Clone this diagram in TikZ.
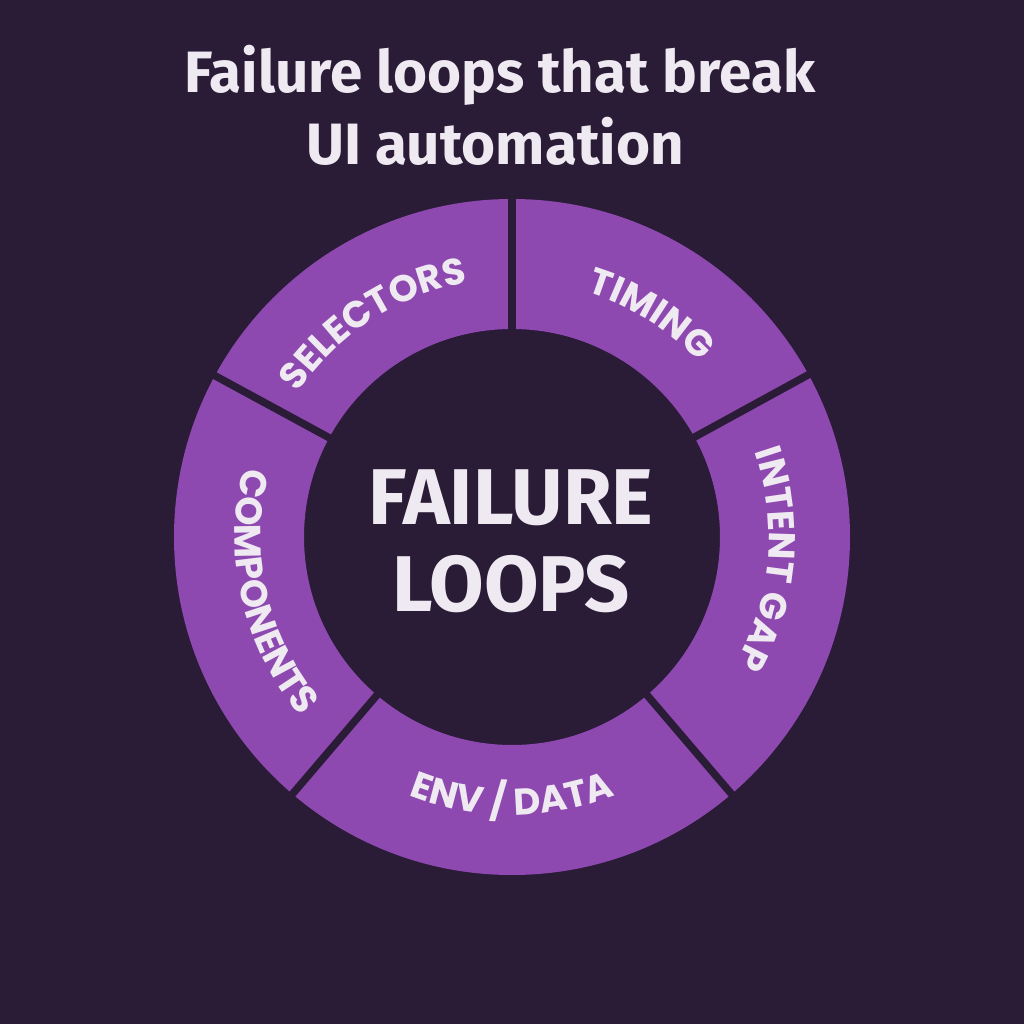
\documentclass[tikz,border=0pt]{standalone}
\usepackage{fontspec}
\setmainfont{Fira Sans}
\newfontfamily\ringface{Poppins}
\usetikzlibrary{decorations.text}

\definecolor{bgdark}{HTML}{2A1B36}
\definecolor{ringpurple}{HTML}{8E49B0}
\definecolor{labelwhite}{HTML}{EFEAF2}
\newcommand{\ringfont}{\ringface\fontsize{10.6}{12}\selectfont\bfseries}

\begin{document}
\begin{tikzpicture}[
    every node/.style={text=labelwhite,inner sep=0pt},
    titletext/.style={font=\fontsize{16.6}{19}\selectfont\bfseries,anchor=base},
    hubtext/.style={font=\fontsize{22.5}{26}\selectfont\bfseries,anchor=base},
    ring/.style={fill=ringpurple,even odd rule},
    gapline/.style={draw=bgdark,line width=0.75mm},
    arclabel/.style={decorate,decoration={text along path,text align=center,
                     text color=labelwhite,text={|\ringfont|#1}}}
]
% background and page size
\fill[bgdark] (0,0) rectangle (10.24,10.24);

% title
\node[titletext] (titlea) at (5.0,9.31) {Failure loops that break};
\node[titletext] (titleb) at (4.95,8.59) {UI automation};

\begin{scope}[shift={(5.12,4.87)}]
  % ring and separators
  \fill[ring] (0,0) circle (3.38) (0,0) circle (2.08);
  \foreach \a in {90,28.7,-49.5,-130.5,151.5}
    \draw[gapline] (\a:2.0) -- (\a:3.45);

  % labels on the ring
  \path[arclabel=SELECTORS]  (153:2.58) arc[start angle=153,end angle=93,radius=2.58];
  \path[arclabel=TIMING]     (88:2.56) arc[start angle=88,end angle=28,radius=2.56];
  \path[arclabel=INTENT GAP] (25:2.57) arc[start angle=25,end angle=-35,radius=2.57];
  \path[arclabel=ENV / DATA] (-120:2.78) arc[start angle=-120,end angle=-60,radius=2.78];
  \path[arclabel=COMPONENTS] (160:2.77) arc[start angle=160,end angle=226,radius=2.77];
\end{scope}

% hub
\node[hubtext] (hubtop) at (5.11,4.99) {FAILURE};
\node[hubtext] (hubbot) at (5.11,4.12) {LOOPS};
\end{tikzpicture}
\end{document}
